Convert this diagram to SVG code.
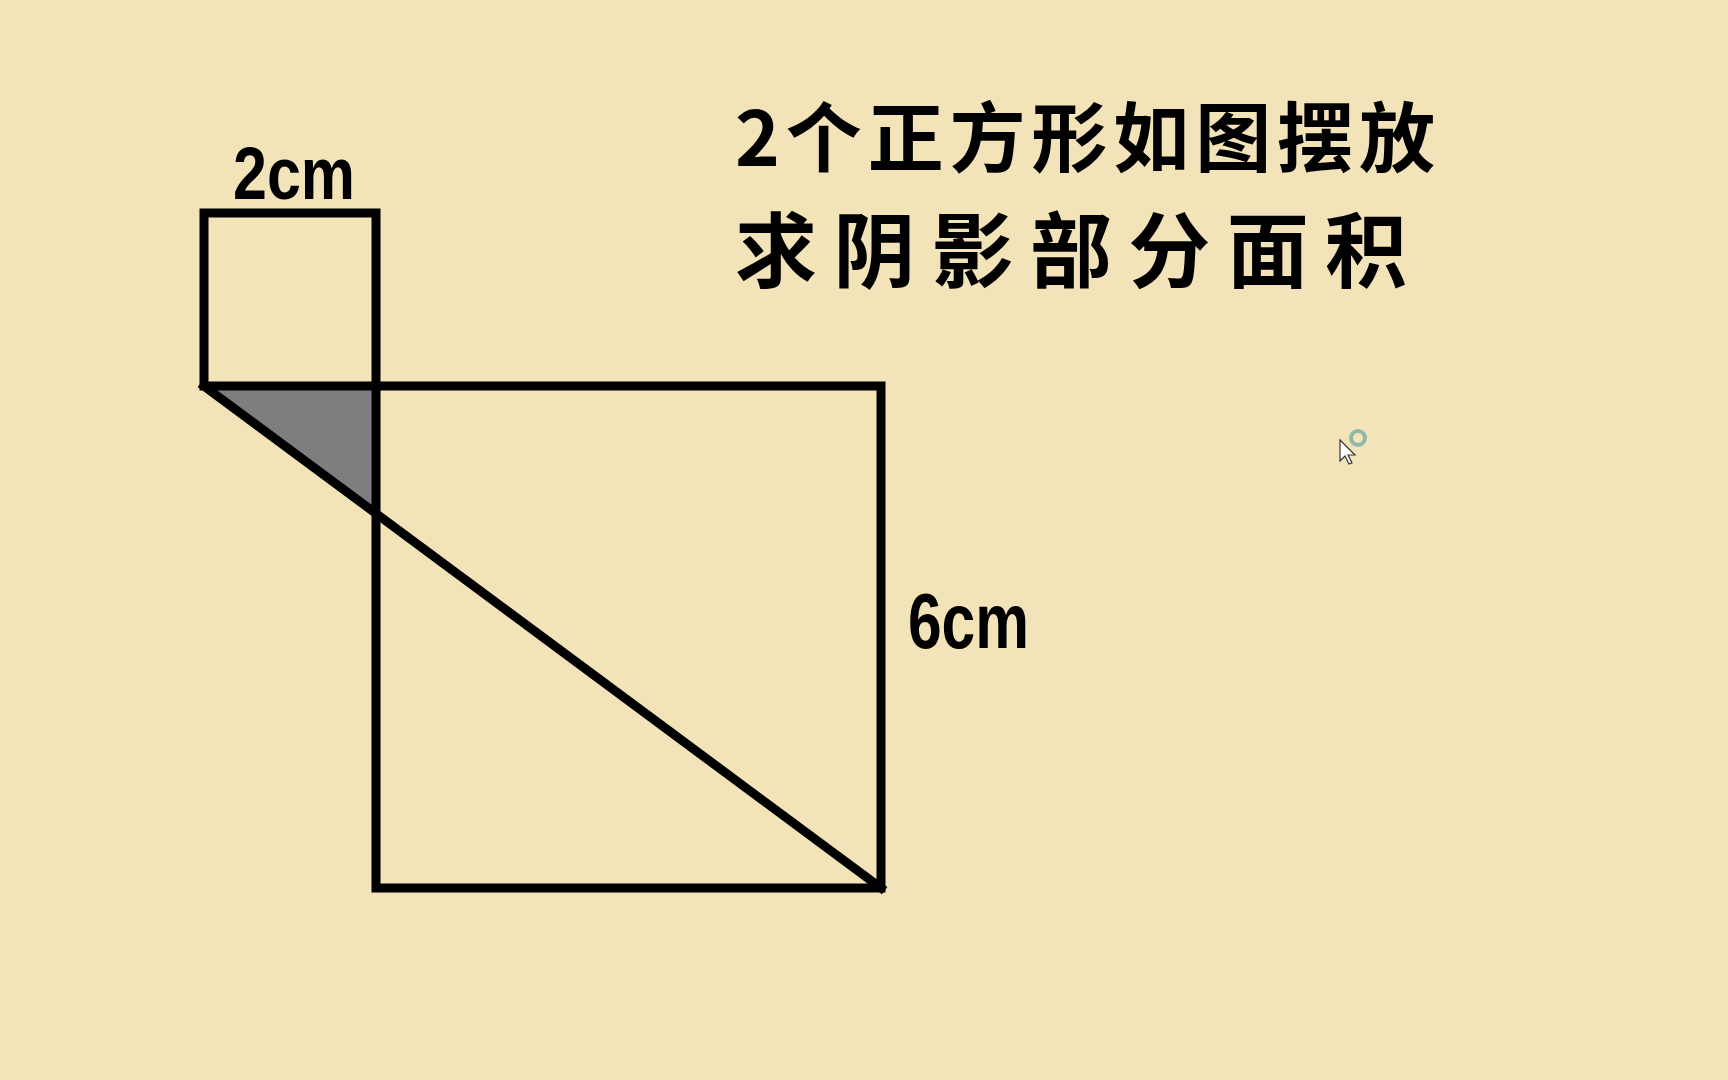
<svg xmlns="http://www.w3.org/2000/svg" width="1728" height="1080" viewBox="0 0 1728 1080">
<style>
.edge{fill:none;stroke:#000;stroke-width:9;stroke-linecap:square;stroke-linejoin:miter}
.lbl{font-family:"Liberation Sans",Arial,sans-serif;font-weight:bold;fill:#000}
.title{font-family:"Noto Sans CJK SC","Noto Sans CJK TC",sans-serif;font-weight:bold;fill:#000}
</style>
<rect width="1728" height="1080" fill="#f3e3b9"/>
<g id="shade">
<polygon points="204,386 376,386 376,513" fill="#807d80"/>
</g>
<g id="small-square">
<rect class="edge" x="204" y="213" width="172" height="173"/>
</g>
<g id="big-square">
<rect class="edge" x="376" y="386" width="505" height="502"/>
</g>
<g id="connectors">
<line class="edge" x1="204" y1="386" x2="881" y2="888" stroke-linecap="butt"/>
</g>
<g id="labels">
<text class="lbl" x="233" y="199" font-size="75" textLength="122" lengthAdjust="spacingAndGlyphs">2cm</text>
<text class="lbl" x="908" y="648" font-size="78" textLength="121" lengthAdjust="spacingAndGlyphs">6cm</text>
</g>
<g id="title">
<text class="title" x="735" y="166" font-size="76" textLength="700" lengthAdjust="spacing">2个正方形如图摆放</text>
<text class="title" x="735" y="281" font-size="82" textLength="672" lengthAdjust="spacing">求阴影部分面积</text>
</g>
<g id="cursor">
<circle cx="1358" cy="438" r="7" fill="none" stroke="#8fb8a8" stroke-width="4"/>
<path d="M1340,440 L1340,461 L1345,456 L1349,464 L1352,463 L1348,455 L1355,455 Z" fill="#fff" stroke="#333" stroke-width="1.2"/>
</g>
</svg>
